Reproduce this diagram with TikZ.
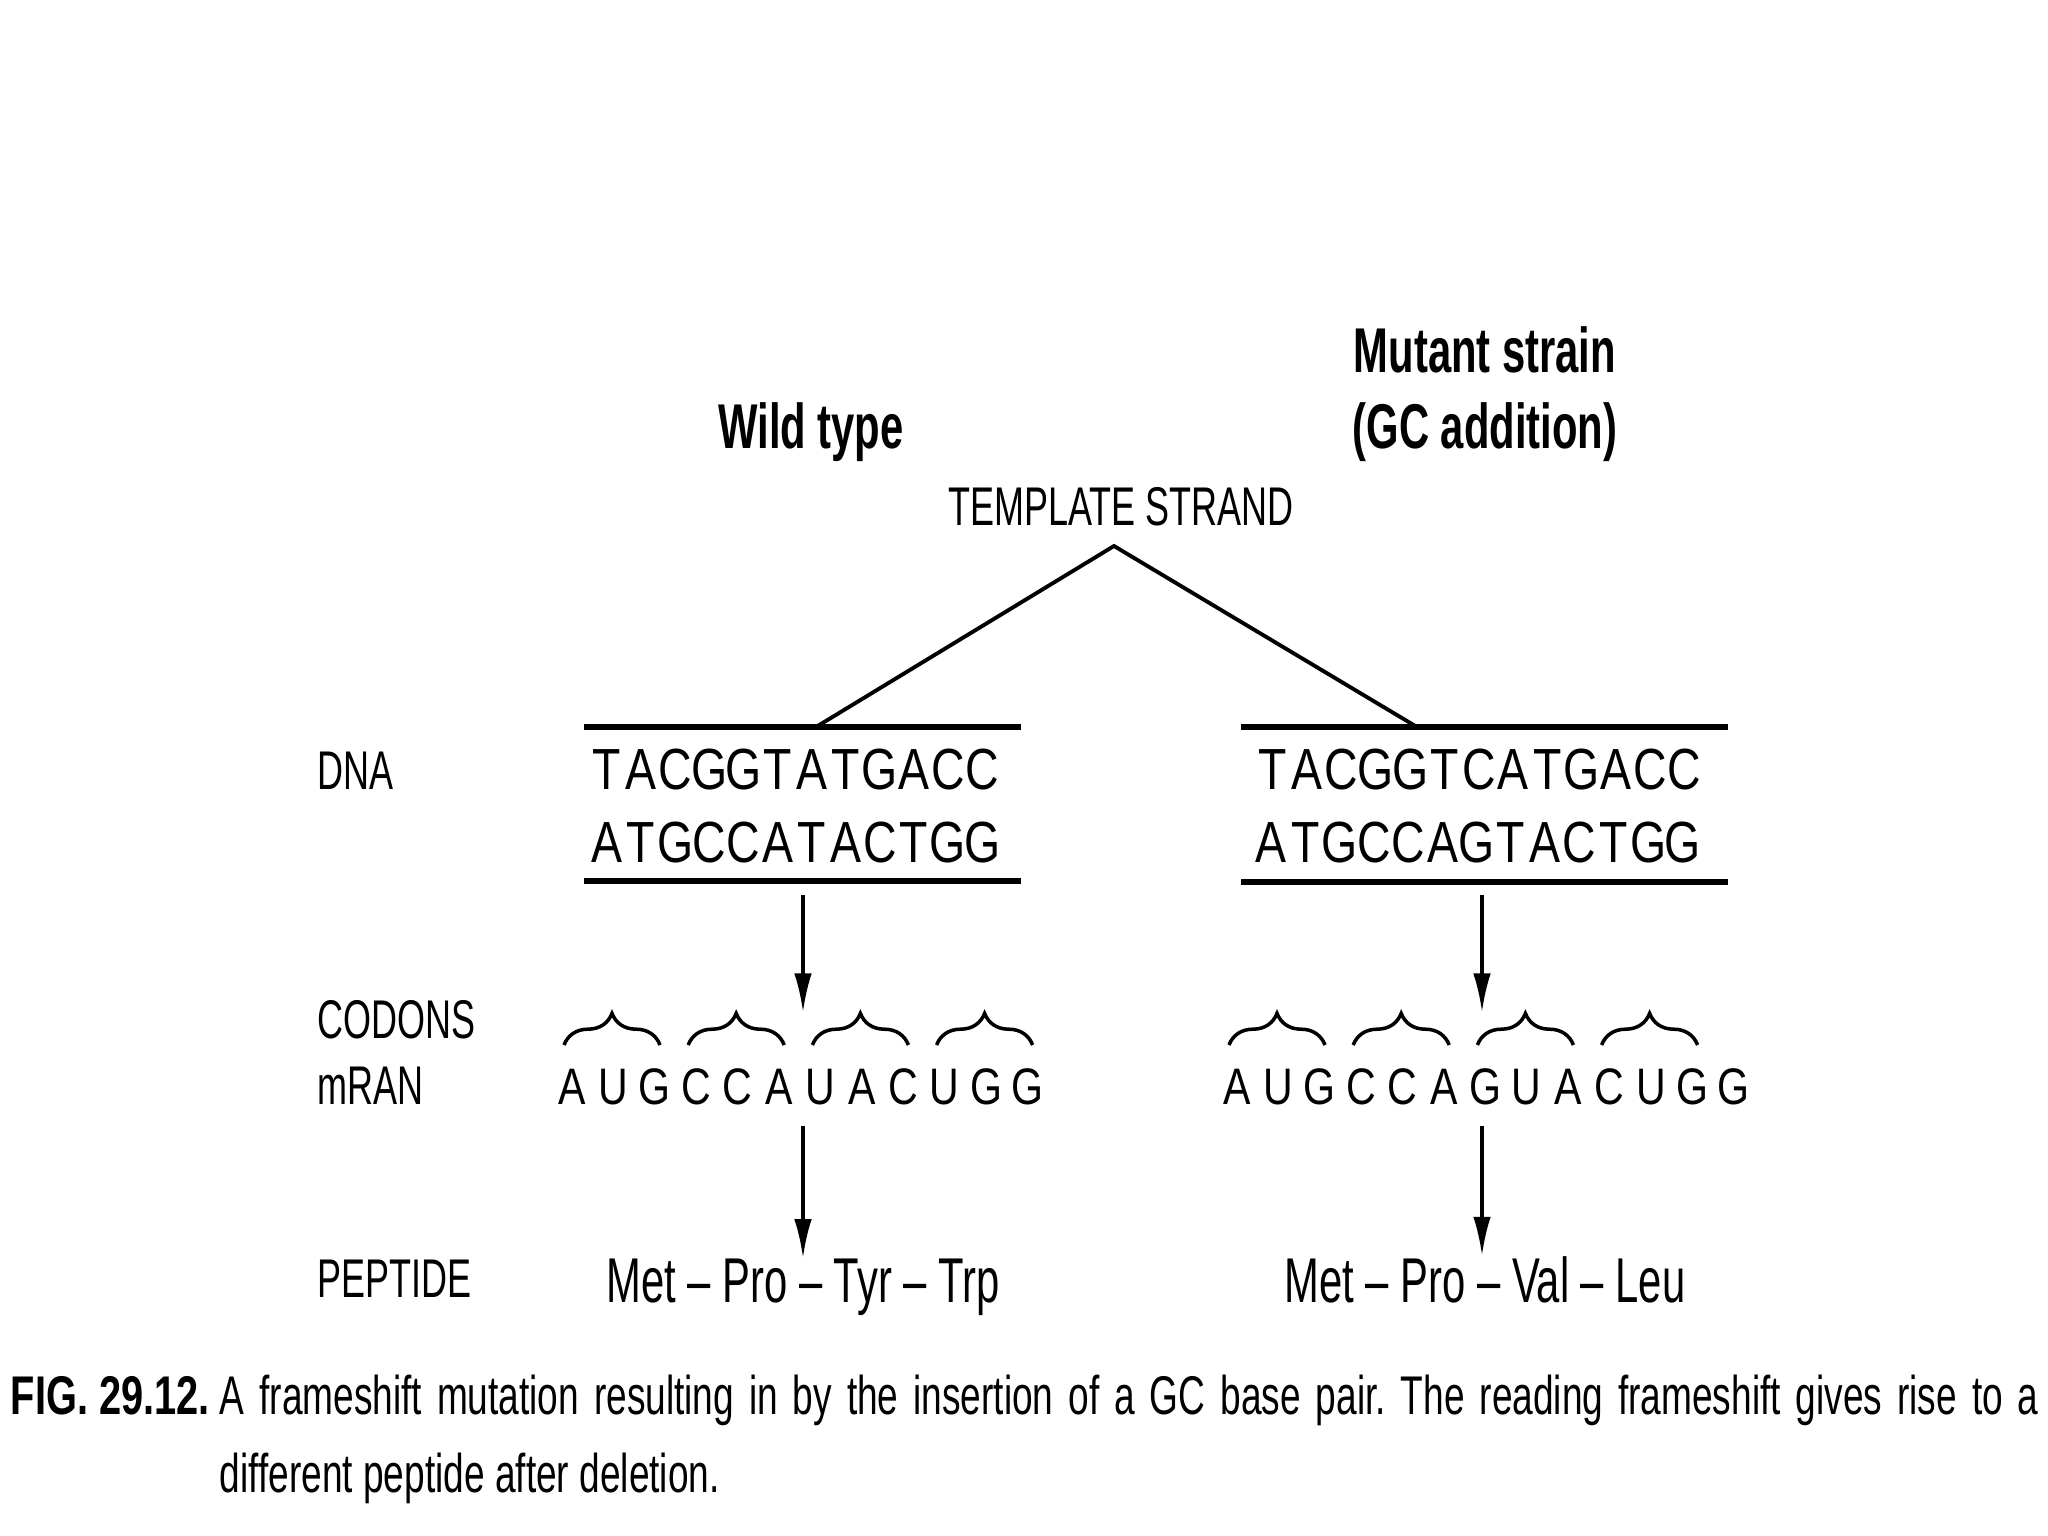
\documentclass[tikz,border=0pt]{standalone}
\usepackage{fontspec}
\setmainfont{Liberation Sans}
\newfontfamily\narrowfont[FakeStretch=0.66]{Liberation Sans}
\newfontfamily\capfont[FakeStretch=0.68]{Liberation Sans}
\newfontfamily\fignumfont[FakeStretch=0.73]{Liberation Sans}
\newfontfamily\seqfont[FakeStretch=0.8]{Liberation Sans}
\usetikzlibrary{arrows.meta,calc,decorations.pathreplacing}
\frenchspacing

\begin{document}
\begin{tikzpicture}[x=0.01cm,y=-0.01cm,
  rowlabel/.style={anchor=base west,inner sep=0pt,font=\narrowfont\fontsize{15.5}{18}\selectfont},
  heading/.style={anchor=base,inner sep=0pt,align=center,font=\narrowfont\bfseries\fontsize{18}{21.5}\selectfont},
  dnabase/.style={anchor=base,inner sep=0pt,font=\seqfont\fontsize{16.5}{18}\selectfont},
  rnabase/.style={anchor=base,inner sep=0pt,font=\seqfont\fontsize{14.6}{18}\selectfont},
  chain/.style={anchor=base,inner sep=0pt,font=\narrowfont\fontsize{18}{21}\selectfont},
  caption/.style={anchor=base west,inner sep=0pt,font=\capfont\fontsize{15.5}{18}\selectfont},
  strand/.style={line width=1.5pt},
  stem/.style={line width=1.1pt},
  flow/.style={-{Latex[length=11pt,width=5pt]},line width=0.9pt},
  codon/.style={decorate,decoration={brace,amplitude=9pt},line width=1pt}]
\useasboundingbox (0,0) rectangle (2048,1536);

% headings
\node[heading] (wild) at (811,448) {Wild type};
\node[heading] (mutant) at (1485,448) {Mutant strain\\(GC addition)};
\node[rowlabel,anchor=base] (template) at (1121,525) {TEMPLATE STRAND};

% row labels
\node[rowlabel] (dnalbl) at (317,789) {DNA};
\node[rowlabel] (codonlbl) at (317,1038) {CODONS};
\node[rowlabel] (mrnalbl) at (317,1104) {mRAN};
\node[rowlabel] (peplbl) at (317,1297) {PEPTIDE};

% template strand fork
\coordinate (apex) at (1114,546);
\coordinate (wtfoot) at (816,727);
\coordinate (mtfoot) at (1417,727);
\draw[stem] (wtfoot) -- (apex) -- (mtfoot);

% double strands
\coordinate (wttl) at (584,727); \coordinate (wttr) at (1021,727);
\coordinate (wtbl) at (584,881); \coordinate (wtbr) at (1021,881);
\coordinate (mttl) at (1241,727); \coordinate (mttr) at (1728,727);
\coordinate (mtbl) at (1241,882); \coordinate (mtbr) at (1728,882);
\draw[strand] (wttl) -- (wttr);
\draw[strand] (wtbl) -- (wtbr);
\draw[strand] (mttl) -- (mttr);
\draw[strand] (mtbl) -- (mtbr);

\foreach \b [count=\i] in {T,A,C,G,G,T,A,T,G,A,C,C}
  \node[dnabase] (wtt\i) at ({607+34.1*(\i-1)},789) {\b};
\foreach \b [count=\i] in {A,T,G,C,C,A,T,A,C,T,G,G}
  \node[dnabase] (wtb\i) at ({607+34.1*(\i-1)},862) {\b};
\foreach \b [count=\i] in {T,A,C,G,G,T,C,A,T,G,A,C,C}
  \node[dnabase] (mtt\i) at ({1273+34.3*(\i-1)},789) {\b};
\foreach \b [count=\i] in {A,T,G,C,C,A,G,T,A,C,T,G,G}
  \node[dnabase] (mtb\i) at ({1271+34.3*(\i-1)},862) {\b};

% mRNA and codons
\foreach \b [count=\i] in {A,U,G,C,C,A,U,A,C,U,G,G}
  \node[rnabase] (wtm\i) at ({572+41.4*(\i-1)},1104) {\b};
\foreach \b [count=\i] in {A,U,G,C,C,A,G,U,A,C,U,G,G}
  \node[rnabase] (mtm\i) at ({1237+41.4*(\i-1)},1104) {\b};
\foreach \k in {0,1,2,3}{
  \draw[codon] ({564+124.2*\k},1045) -- ({660+124.2*\k},1045);
  \draw[codon] ({1229+124.2*\k},1045) -- ({1325+124.2*\k},1045);
}

% peptides
\node[chain] (wtpep) at (803,1302) {Met – Pro – Tyr – Trp};
\node[chain] (mtpep) at (1485,1302) {Met – Pro – Val – Leu};

% reading arrows
\coordinate (wtdown) at (803,895);  \coordinate (wtread) at (803,1012);
\coordinate (mtdown) at (1482,895); \coordinate (mtread) at (1482,1012);
\coordinate (wtrna) at (803,1126);  \coordinate (mtrna) at (1482,1126);
\draw[flow] (wtdown) -- (wtread);
\draw[flow] (mtdown) -- (mtread);
\draw[flow] (wtrna) -- (wtrna |- wtpep.north);
\draw[flow] (mtrna) -- (mtrna |- mtpep.north);

% caption
\node[caption] (fignum) at (10,1414) {\fignumfont\bfseries FIG. 29.12.};
\node[caption] (capone) at (219,1414) {\makebox[18.18cm][s]{A frameshift mutation resulting in by the insertion of a GC base pair. The reading frameshift gives rise to a}};
\node[caption] (captwo) at (219,1492) {different peptide after deletion.};

\end{tikzpicture}
\end{document}
